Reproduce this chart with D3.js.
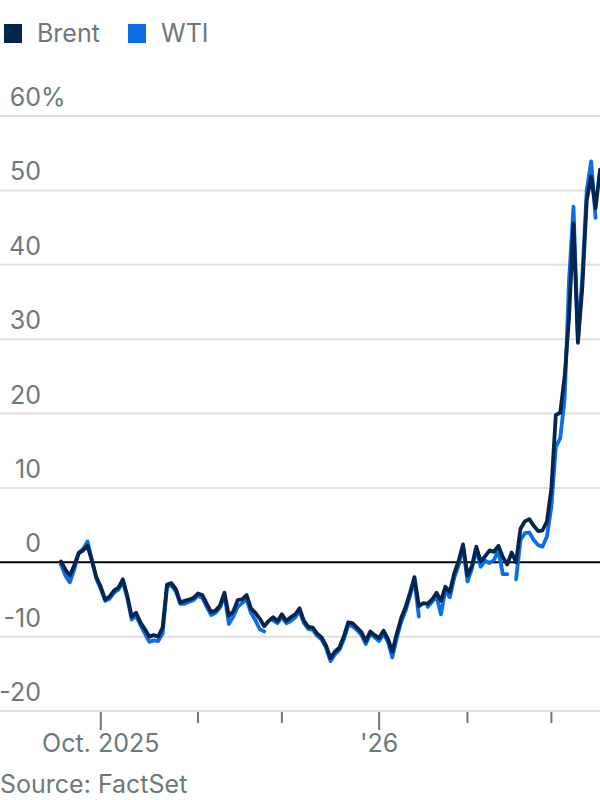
<!DOCTYPE html>
<html><head><meta charset="utf-8">
<script src="https://cdn.jsdelivr.net/npm/d3@7"></script>
<style>
html,body{margin:0;padding:0;background:#fff;}
svg{display:block;font-family:Inter,Roboto,"Noto Sans",sans-serif;}
</style></head><body>
<svg id="chart" width="600" height="800"></svg>
<script>
// Daily % change since start, trading-day index
const brent = [
 0.1, -1.0, -1.8, -0.4, 1.2, 1.6, 2.2, 0.2, -2.0, -3.3,
 -5.0, -4.6, -3.8, -3.4, -2.3, -4.5, -7.3, -6.8, -8.1, -9.0,
 -10.0, -9.8, -10.0, -8.8, -3.0, -2.8, -3.6, -5.4, -5.2, -5.0,
 -4.8, -4.2, -4.4, -5.6, -6.7, -6.5, -5.8, -4.1, -7.2, -6.6,
 -5.1, -5.0, -4.4, -6.2, -6.8, -7.6, -8.6, -7.9, -7.4, -7.9,
 -7.0, -7.9, -7.4, -7.0, -6.2, -7.9, -8.7, -8.8, -9.6, -10.1,
 -11.2, -12.9, -12.0, -11.5, -10.0, -8.1, -8.2, -8.8, -9.4, -10.6,
 -9.3, -9.8, -10.2, -9.2, -10.3, -12.0, -9.6, -7.5, -6.0, -4.1,
 -2.0, -5.9, -5.5, -5.6, -5.0, -4.1, -5.2, -3.3, -4.0, -1.5,
 0.2, 2.4, -1.8, -0.5, 2.1, 0.1, 0.8, 1.6, 1.4, 2.2,
 0.7, -0.3, 1.3, 0.0, 4.5, 5.5, 5.8, 4.9, 4.2, 4.3,
 5.5, 10.0, 19.8, 20.1, 25.0, 33.0, 45.6, 29.5, 37.0, 48.7,
 51.9, 47.6, 52.8
];
const wti = [
 -0.3, -1.8, -2.7, -1.0, 1.3, 1.8, 2.8, 0.3, -2.2, -3.6,
 -5.2, -4.9, -4.1, -3.7, -2.6, -4.8, -7.7, -7.2, -8.5, -9.6,
 -10.7, -10.5, -10.6, -9.6, -3.3, -3.1, -3.9, -5.6, -5.6, -5.3,
 -5.1, -4.5, -4.8, -6.0, -7.1, -6.8, -6.1, -4.4, -8.3, -7.3,
 -6.0, -5.5, -5.0, -6.8, -7.8, -9.0, -9.3, null, -7.8, -8.2,
 -7.4, -8.2, -7.9, -7.4, -6.6, -8.2, -9.0, -9.1, -9.9, -10.4,
 -11.5, -13.3, -12.4, -11.8, -10.4, -8.5, -8.6, -9.1, -9.8, -11.0,
 -9.6, -10.1, -10.6, -9.6, -10.7, -12.8, -10.2, -8.0, -6.5, -4.5,
 -2.4, -7.3, null, -6.0, -5.3, -4.6, -7.0, -3.7, -4.7, -2.1,
 -0.4, 2.2, -2.6, -0.9, 1.8, -0.6, 0.2, -0.1, 0.3, 1.6,
 -1.6, -1.6, null, -2.3, 3.0, 3.9, 4.0, 3.0, 2.3, 2.1,
 3.5, 7.5, 15.5, 16.7, 22.0, 38.0, 47.8, 30.0, 38.5, 50.0,
 53.9, 46.3, null
];
const tickIndex = [9, 31, 50, 72, 92, 111];
const tickLabels = ["Oct. 2025", "", "", "'26", "", ""];
const yTicks = [60, 50, 40, 30, 20, 10, 0, -10, -20];
const seriesNames = ["Brent", "WTI"];
const seriesColors = ["#03254e", "#0a6fe6"];
const sourceText = "Source: FactSet";

const textColor = "#6d7878";
const fs = 25;
const svg = d3.select("#chart");
const x = d3.scaleLinear().domain([0, brent.length - 1]).range([61, 600]);
const y = d3.scaleLinear().domain([-20, 60]).range([711, 116]);

// gridlines (non-zero)
svg.append("g").selectAll("line").data(yTicks.filter(d => d !== 0)).join("line")
  .attr("x1", 0).attr("x2", 600)
  .attr("y1", d => y(d)).attr("y2", d => y(d))
  .attr("stroke", "#e0e0e0").attr("stroke-width", 2);

// y labels
const yl = svg.append("g").attr("font-size", fs).attr("fill", textColor);
yl.selectAll("text").data(yTicks).join("text")
  .attr("x", 41).attr("y", d => y(d) - 10)
  .attr("text-anchor", "end")
  .text(d => d);
yl.append("text").attr("x", 41).attr("y", y(yTicks[0]) - 10).text("%");

// x axis ticks
const xa = svg.append("g");
xa.selectAll("line").data(tickIndex).join("line")
  .attr("x1", d => x(d)).attr("x2", d => x(d))
  .attr("y1", y(-20) + 1)
  .attr("y2", (d, i) => tickLabels[i] ? y(-20) + 19 : y(-20) + 12)
  .attr("stroke", textColor).attr("stroke-width", 2);
xa.selectAll("text").data(tickIndex).join("text")
  .attr("x", d => x(d)).attr("y", 752)
  .attr("text-anchor", "middle").attr("font-size", fs).attr("fill", textColor)
  .text((d, i) => tickLabels[i]);

// zero line
svg.append("line").attr("x1", 0).attr("x2", 600)
  .attr("y1", y(0)).attr("y2", y(0))
  .attr("stroke", "#000").attr("stroke-width", 2);

// lines
const line = d3.line()
  .defined(d => d != null)
  .x((d, i) => x(i)).y(d => y(d));
[wti, brent].forEach((s, k) => {
  svg.append("path").datum(s)
    .attr("d", line)
    .attr("fill", "none")
    .attr("stroke", k === 0 ? seriesColors[1] : seriesColors[0])
    .attr("stroke-width", 3.8)
    .attr("stroke-linejoin", "round")
    .attr("stroke-linecap", "round");
});

// legend
const lg = svg.append("g");
const legX = [4, 128];
seriesNames.forEach((n, i) => {
  lg.append("rect").attr("x", legX[i]).attr("y", 24).attr("width", 18).attr("height", 19)
    .attr("fill", seriesColors[i]);
  lg.append("text").attr("x", legX[i] + 33).attr("y", 42)
    .attr("font-size", fs).attr("fill", textColor).text(n);
});

// source
svg.append("text").attr("x", 0).attr("y", 793)
  .attr("font-size", fs).attr("fill", textColor).text(sourceText);
</script>
</body></html>
